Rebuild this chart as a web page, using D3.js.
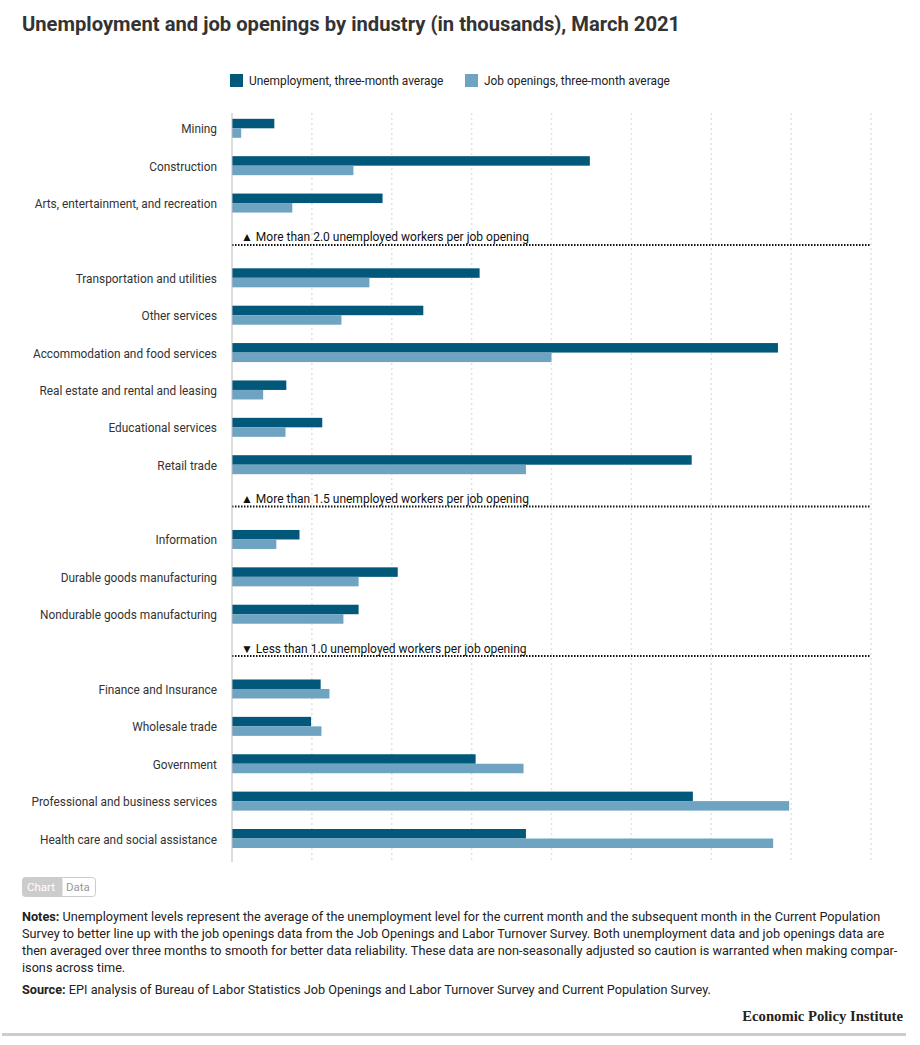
<!DOCTYPE html>
<html>
<head>
<meta charset="utf-8">
<script src="https://cdn.jsdelivr.net/npm/d3@7"></script>
<style>
body{margin:0;background:#fff;}
svg text{font-family:"Roboto","Noto Sans",sans-serif;}
</style>
</head>
<body>
<script>
const svg_width = 920, svg_height = 1045;

// industries, top to bottom
var industries = ["Mining","Construction","Arts, entertainment, and recreation",
	"Transportation and utilities","Other services","Accommodation and food services",
	"Real estate and rental and leasing","Educational services","Retail trade",
	"Information","Durable goods manufacturing","Nondurable goods manufacturing",
	"Finance and Insurance","Wholesale trade","Government",
	"Professional and business services","Health care and social assistance"];
// thousands, three-month averages
var unemployment = [106,896,377,620,479,1367,136,226,1151,169,415,317,222,198,610,1154,736];
var openings = [23,304,151,344,274,800,78,134,736,111,317,279,244,224,730,1395,1355];
// dividers come after these industry indexes
var dividerAfter = [2,8,11];
var dividerLabels = ["▲ More than 2.0 unemployed workers per job opening",
	"▲ More than 1.5 unemployed workers per job opening",
	"▼ Less than 1.0 unemployed workers per job opening"];
var seriesNames = ["Unemployment, three-month average","Job openings, three-month average"];
var colors = ["#02587a","#6fa3c2"];
var xTicks = [0,200,400,600,800,1000,1200,1400,1600];

var svg = d3.select("body").append("svg")
	.attr("width",svg_width)
	.attr("height",svg_height);

// title
svg.append("text")
	.attr("x",22).attr("y",31)
	.attr("font-size","20.2px")
	.attr("font-weight","bold")
	.attr("fill","#333")
	.text("Unemployment and job openings by industry (in thousands), March 2021");

// legend
var legend = svg.append("g");
var legX = [230,465];
seriesNames.forEach(function(n,i){
	legend.append("rect").attr("x",legX[i]).attr("y",74).attr("width",13).attr("height",13).attr("fill",colors[i]);
	legend.append("text").attr("x",legX[i]+19).attr("y",85).attr("font-size","11.9px").attr("fill","#222").text(n);
});

// row slots: industries plus divider rows
var slots = [];
industries.forEach(function(d,i){
	slots.push("i"+i);
	var k = dividerAfter.indexOf(i);
	if(k >= 0) slots.push("d"+k);
});

var y = d3.scalePoint().domain(slots).range([128.3,838.5]);
var x = d3.scaleLinear().domain([0,1600]).range([232,871]);
const barH = 9.5;

// gridlines
svg.append("g").selectAll("line")
	.data(xTicks.slice(1))
	.enter().append("line")
	.attr("x1",function(d){return x(d)})
	.attr("x2",function(d){return x(d)})
	.attr("y1",113).attr("y2",862)
	.attr("stroke","#e2e2e2")
	.attr("stroke-width",1.5)
	.attr("stroke-dasharray","2,3");

// bars
var rows = svg.append("g").selectAll("g")
	.data(industries)
	.enter().append("g");

rows.append("rect")
	.attr("x",x(0))
	.attr("y",function(d,i){return y("i"+i) - barH})
	.attr("width",function(d,i){return x(unemployment[i]) - x(0)})
	.attr("height",barH)
	.attr("fill",colors[0]);

rows.append("rect")
	.attr("x",x(0))
	.attr("y",function(d,i){return y("i"+i)})
	.attr("width",function(d,i){return x(openings[i]) - x(0)})
	.attr("height",barH)
	.attr("fill",colors[1]);

rows.append("text")
	.attr("x",217)
	.attr("y",function(d,i){return y("i"+i) + 5})
	.attr("text-anchor","end")
	.attr("font-size","11.85px")
	.attr("fill","#333")
	.text(function(d){return d});

// dividers
var divs = svg.append("g").selectAll("g")
	.data(dividerLabels)
	.enter().append("g");
divs.append("line")
	.attr("x1",x(0)).attr("x2",x(1600))
	.attr("y1",function(d,i){return y("d"+i) + 4.5})
	.attr("y2",function(d,i){return y("d"+i) + 4.5})
	.attr("stroke","#111")
	.attr("stroke-width",2)
	.attr("stroke-dasharray","1.5,1.5");
divs.append("text")
	.attr("x",241)
	.attr("y",function(d,i){return y("d"+i) + 1})
	.attr("font-size","12px")
	.attr("fill","#111")
	.text(function(d){return d});

// axis line
svg.append("line")
	.attr("x1",x(0)).attr("x2",x(0))
	.attr("y1",113).attr("y2",862)
	.attr("stroke","#bbb")
	.attr("stroke-width",1);

// chart / data toggle
var tog = svg.append("g");
tog.append("rect").attr("x",22.5).attr("y",877.5).attr("width",73).attr("height",19).attr("rx",3)
	.attr("fill","#fff").attr("stroke","#ccc");
tog.append("rect").attr("x",22.5).attr("y",877.5).attr("width",40).attr("height",19).attr("rx",2)
	.attr("fill","#ccc");
tog.append("text").attr("x",27).attr("y",891).attr("font-size","11.5px").attr("fill","#fff").text("Chart");
tog.append("text").attr("x",66).attr("y",891).attr("font-size","11.5px").attr("fill","#999").text("Data");

// notes
var notes = [
	["Notes: ","Unemployment levels represent the average of the unemployment level for the current month and the subsequent month in the Current Population"],
	["","Survey to better line up with the job openings data from the Job Openings and Labor Turnover Survey. Both unemployment data and job openings data are"],
	["","then averaged over three months to smooth for better data reliability. These data are non-seasonally adjusted so caution is warranted when making compar-"],
	["","isons across time."]
];
var noteY = [921,938,955,972];
notes.forEach(function(n,i){
	var t = svg.append("text").attr("x",22).attr("y",noteY[i]).attr("font-size","12.7px").attr("fill","#222");
	if(n[0]) t.append("tspan").attr("font-weight","bold").text(n[0]);
	t.append("tspan").text(n[1]);
});
var src = svg.append("text").attr("x",22).attr("y",994).attr("font-size","12.7px").attr("fill","#222");
src.append("tspan").attr("font-weight","bold").text("Source: ");
src.append("tspan").text("EPI analysis of Bureau of Labor Statistics Job Openings and Labor Turnover Survey and Current Population Survey.");

svg.append("text")
	.attr("x",903).attr("y",1021)
	.attr("text-anchor","end")
	.attr("font-size","14.7px")
	.attr("font-weight","bold")
	.attr("fill","#222")
	.style("font-family","'Liberation Serif',serif")
	.text("Economic Policy Institute");

svg.append("rect").attr("x",2).attr("y",1033).attr("width",904).attr("height",3).attr("fill","#ccc");
</script>
</body>
</html>
